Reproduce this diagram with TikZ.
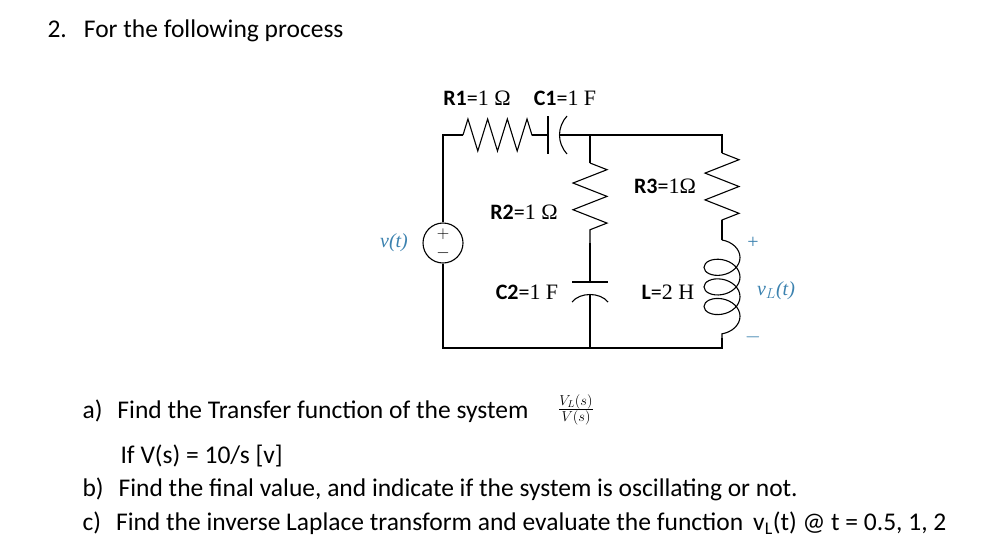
\documentclass[tikz,border=0pt]{standalone}
\usepackage{fontspec}
\setmainfont{Carlito}
\newfontfamily\serif{Liberation Serif}
\usetikzlibrary{decorations.pathmorphing}
\begin{document}
\begin{tikzpicture}[x=1pt,y=-1pt,line width=1.1pt,
  txt/.style={anchor=west,font=\fontsize{25.5}{28}\selectfont,inner sep=0},
  lab/.style={font=\fontsize{22}{24}\selectfont,inner sep=0},
  blu/.style={text=vblue,font=\serif\fontsize{20}{22}\selectfont\itshape,inner sep=0}]
\definecolor{vblue}{RGB}{60,130,175}
\useasboundingbox (0,0) rectangle (1008,542);
\coordinate (TL) at (443,135); \coordinate (TM) at (590,135); \coordinate (TR) at (722,135);
\coordinate (BL) at (443,348); \coordinate (BM) at (590,348); \coordinate (BR) at (722,348);
\node[circle,draw,minimum size=40pt,inner sep=0] (V) at (443,243) {};
\node[font=\fontsize{16}{16}\selectfont,inner sep=0] at (443,234) {$+$};
\node[font=\fontsize{16}{16}\selectfont,inner sep=0] at (443,253) {$-$};
\draw (V.north) -- (TL) -- (463,135);
\draw[decorate,decoration={zigzag,segment length=19.7pt,amplitude=16pt}] (463,135) -- (532,135);
\draw (532,135) -- (548,135);
\draw (548,116) -- (548,154);
\draw (567,116) .. controls (557,127) and (557,143) .. (567,154);
\draw (560,135) -- (TM) -- (TR) -- (722,153);
\draw[decorate,decoration={zigzag,segment length=26.8pt,amplitude=17pt}] (722,153) -- (722,220);
\draw (722,220) -- (722,240);
\draw[decorate,decoration={coil,aspect=0.7,segment length=19.6pt,amplitude=18pt}] (722,240) -- (722,338);
\draw (722,338) -- (BR) -- (BL) -- (V.south);
\draw (TM) -- (590,163);
\draw[decorate,decoration={zigzag,segment length=26.7pt,amplitude=17pt}] (590,163) -- (590,243);
\draw (590,243) -- (590,282);
\draw (572,282) -- (608,282);
\draw (572,302) .. controls (580,292) and (600,292) .. (608,302);
\draw (590,294) -- (BM);
\node[lab] at (477,98) {\textbf{R1}={\serif 1 Ω}};
\node[lab] at (565,98) {\textbf{C1}={\serif 1 F}};
\node[lab] at (524,212) {\textbf{R2}={\serif 1 Ω}};
\node[lab] at (527,292) {\textbf{C2}={\serif 1 F}};
\node[lab] at (665,186) {\textbf{R3}={\serif 1Ω}};
\node[lab] at (668,292) {\textbf{L}={\serif 2 H}};
\node[blu] at (394,243) {v(t)};
\node[blu,font=\serif\fontsize{20}{22}\selectfont] at (753,243) {+};
\node[blu] at (776,291) {v$_L$(t)};
\node[blu,font=\serif\fontsize{20}{22}\selectfont] at (753,337) {$-$};
\node[txt] at (47,31) {2.\hspace{17pt}For the following process};
\node[txt] at (82,411) {a)\hspace{15pt}Find the Transfer function of the system};
\node[inner sep=0,font=\fontsize{20}{22}\selectfont] at (576,410) {$\frac{V_L(s)}{V(s)}$};
\node[txt] at (120,456) {If V(s) = 10/s [v]};
\node[txt] at (82,489) {b)\hspace{15pt}Find the final value, and indicate if the system is oscillating or not.};
\node[txt] at (82,523) {c)\hspace{15pt}Find the inverse Laplace transform and evaluate the function\hspace{10pt}v\textsubscript{L}(t) @ t = 0.5, 1, 2};
\end{tikzpicture}
\end{document}
